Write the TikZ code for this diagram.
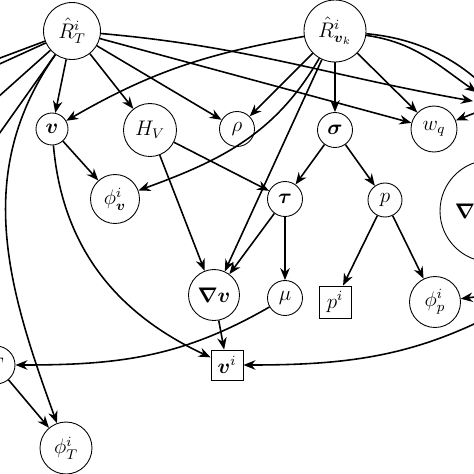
\documentclass[tikz,border=0pt]{standalone}
\usepackage{amsmath}
\usetikzlibrary{arrows.meta}
\tikzset{
	var/.style={draw, circle, inner sep=0pt, line width=.5pt},
	obs/.style={draw, rectangle, inner sep=0pt, line width=.5pt},
	dep/.style={-{Stealth[length=2.4mm,width=1.9mm]}, line width=.9pt},
}
\begin{document}
\begin{tikzpicture}[x=.02cm,y=-.02cm,font=\fontsize{12}{14}\selectfont]
		\useasboundingbox (0,0) rectangle (474,474);
		% residuals
		\node[var, minimum size=1.14cm] (RT) at (72,31) {$\hat{R}^i_T$};
		\node[var, minimum size=1.24cm] (Rv) at (335,31) {$\hat{R}^i_{\boldsymbol{v}_k}$};
		% second row
		\node[var, minimum size=.64cm] (v) at (52,129) {$\boldsymbol{v}$};
		\node[var, minimum size=1.06cm] (HV) at (150,130) {$H_V$};
		\node[var, minimum size=.7cm] (rho) at (237,129) {$\rho$};
		\node[var, minimum size=.7cm] (sigma) at (335,130) {$\boldsymbol{\sigma}$};
		\node[var, minimum size=.92cm] (wq) at (434,129) {$w_q$};
		\node[circle, minimum size=.88cm] (X) at (495,105) {};
		% third row
		\node[var, minimum size=.98cm] (phiv) at (115,199) {$\phi^i_{\boldsymbol{v}}$};
		\node[var, minimum size=.7cm] (tau) at (285,199) {$\boldsymbol{\tau}$};
		\node[var, minimum size=.68cm] (p) at (385,200) {$p$};
		\node[var, minimum size=2.04cm, text width=1.45cm, align=left] (divN) at (491,211) {$\boldsymbol{\nabla}$};
		% fourth row
		\node[var, minimum size=1.02cm] (nabv) at (214,295) {$\boldsymbol{\nabla}\boldsymbol{v}$};
		\node[var, minimum size=.7cm] (mu) at (285,298) {$\mu$};
		\node[obs, minimum size=.64cm] (pi) at (335,302) {$p^i$};
		\node[var, minimum size=1.02cm] (phip) at (435,302) {$\phi^i_p$};
		% bottom
		\node[obs, minimum width=.64cm, minimum height=.6cm] (vi) at (227,365) {$\boldsymbol{v}^i$};
		\node[var, minimum size=.76cm] (T) at (-4,365) {$T$};
		\node[var, minimum size=1.04cm] (phiT) at (66,448) {$\phi^i_T$};
		% ends outside the frame
		\coordinate (L1) at (-40,73);
		\coordinate (L2) at (-40,82);
		\coordinate (L3) at (-40,131);
		\coordinate (L4) at (-40,189);
		\coordinate (FR) at (540,200);
		\coordinate (E1) at (520,300);
		\coordinate (E2) at (530,290);

		\draw[dep] (RT) -- (v);
		\draw[dep] (RT) -- (HV);
		\draw[dep] (RT) -- (rho);
		\draw[dep] (RT) -- (wq);
		\draw[dep] (RT) to[out=-5,in=170] (X);
		\draw[dep] (RT) to[out=-125,in=110] (phiT);
		\draw[dep] (RT) -- (L1);
		\draw[dep] (RT) -- (L2);
		\draw[dep] (RT) -- (L3);
		\draw[dep] (RT) -- (L4);

		\draw[dep] (Rv) to[out=190,in=30] (v);
		\draw[dep] (Rv) -- (rho);
		\draw[dep] (Rv) -- (sigma);
		\draw[dep] (Rv) -- (wq);
		\draw[dep] (Rv) -- (nabv);
		\draw[dep] (Rv) to[out=-120,in=20] (phiv);
		\draw[dep] (Rv) to[out=-8,in=145] (X);
		\draw[dep] (Rv) to[out=-5,in=100] (FR);
		\draw[dep] (X) -- (wq);

		\draw[dep] (v) -- (phiv);
		\draw[dep] (v) to[out=-85,in=155] (vi);
		\draw[dep] (HV) -- (nabv);
		\draw[dep] (HV) -- (tau);
		\draw[dep] (sigma) -- (tau);
		\draw[dep] (sigma) -- (p);
		\draw[dep] (tau) -- (nabv);
		\draw[dep] (tau) -- (mu);
		\draw[dep] (p) -- (pi);
		\draw[dep] (p) -- (phip);
		\draw[dep] (nabv) -- (vi);
		\draw[dep] (mu) to[out=-150,in=0] (T);
		\draw[dep] (T) -- (phiT);
		\draw[dep] (E1) to[out=210,in=0] (vi);
		\draw[dep] (E2) -- (phip);
\end{tikzpicture}
\end{document}
